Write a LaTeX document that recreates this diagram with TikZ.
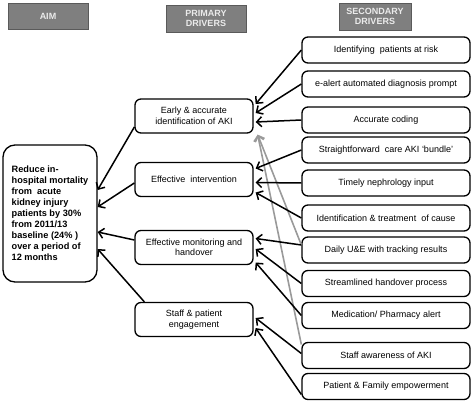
\documentclass[tikz,border=0pt]{standalone}
\usepackage{fontspec}
\setmainfont{Liberation Sans}
\usepackage{tikz}
\usetikzlibrary{arrows.meta,positioning,calc}
\definecolor{hdrgray}{HTML}{7F7F7F}
\definecolor{hdredge}{HTML}{5A5A5A}
\definecolor{linkgray}{HTML}{9A9A9A}

\begin{document}
\begin{tikzpicture}[x=1pt,y=-1pt,
  hdr/.style={draw=hdredge, fill=hdrgray, text=white!92!black, font=\fontsize{9}{10}\selectfont\bfseries,
    align=center, minimum height=26pt, inner sep=1pt},
  box/.style={draw=black, line width=1.3pt, rounded corners=6pt, fill=white,
    font=\fontsize{9}{10.5}\selectfont, align=center, inner sep=2pt},
  link/.style={line width=1.5pt, -{Straight Barb[length=5pt,width=10pt]}},
  glink/.style={link, draw=linkgray, line width=1.6pt}]
\useasboundingbox (0,0) rectangle (474,404);
% column headers
\node[hdr, minimum width=80pt] (haim) at (48,16.5) {AIM};
\node[hdr, minimum width=80pt, minimum height=27pt] (hprim) at (206,18.5) {PRIMARY\\DRIVERS};
\node[hdr, minimum width=72pt, minimum height=27pt] (hsec) at (375,16.5) {SECONDARY\\DRIVERS};
% aim
\node[box, rounded corners=12pt, minimum width=94pt, minimum height=137pt,
  font=\fontsize{9.2}{11}\selectfont\bfseries, align=left] (aim) at (50,213.5)
  {Reduce in-\\hospital mortality\\from\ \ acute\\kidney injury\\patients by 30\%\\from 2011/13\\baseline (24\% )\\over a period of\\12 months};
% primary drivers
\foreach \i/\yy/\lab in {%
   1/116/{Early \& accurate\\identification of AKI},
   2/179.5/{Effective\ \ intervention},
   3/247.5/{Effective monitoring and\\handover},
   4/319.5/{Staff \& patient\\engagement}}{
   \node[box, minimum width=118pt, minimum height=34pt] (prim\i) at (194,\yy) {\lab};
}
% secondary drivers
\foreach \i/\yy/\lab in {%
   1/50/{Identifying\ \ patients at risk},
   2/84/{e-alert automated diagnosis prompt},
   3/120/{Accurate coding},
   4/150/{Straightforward\ \ care AKI `bundle'},
   5/183/{Timely nephrology input},
   6/218/{Identification \& treatment\ \ of cause},
   7/250/{Daily U\&E with tracking results},
   8/283.5/{Streamlined handover process},
   9/315.5/{Medication/ Pharmacy alert},
   10/355.5/{Staff awareness of AKI},
   11/386.5/{Patient \& Family empowerment}}{
   \node[box, minimum width=168pt, minimum height=26pt] (sec\i) at (386,\yy) {\lab};
}
% secondary -> primary
\draw[glink] ([yshift=5pt]sec7.west) -- ([xshift=4pt,yshift=-1pt]prim1.south east);
\draw[glink] ([yshift=11pt]sec10.west) -- ([xshift=4pt,yshift=-1pt]prim1.south east);
\draw[link] (sec1.west) -- ([xshift=2pt,yshift=12pt]prim1.east);
\draw[link] (sec2.west) -- ([xshift=2pt,yshift=3pt]prim1.east);
\draw[link] (sec3.west) -- ([xshift=2pt,yshift=-6pt]prim1.east);
\draw[link] (sec4.west) -- ([xshift=2pt,yshift=11pt]prim2.east);
\draw[link] (sec5.west) -- ([xshift=2pt,yshift=-3pt]prim2.east);
\draw[link] (sec6.west) -- ([xshift=2pt,yshift=-13pt]prim2.east);
\draw[link] ([yshift=5pt]sec7.west) -- ([xshift=2pt,yshift=9pt]prim3.east);
\draw[link] (sec8.west) -- ([xshift=2pt,yshift=-1.5pt]prim3.east);
\draw[link] (sec9.west) -- ([xshift=2pt,yshift=-15pt]prim3.east);
\draw[link] ([yshift=2pt]sec10.west) -- ([xshift=2pt,yshift=1.5pt]prim4.east);
\draw[link] ([yshift=-8pt]sec11.west) -- ([xshift=2pt,yshift=-8.5pt]prim4.east);
% primary -> aim
\draw[link] ([yshift=-11pt]prim1.west) -- ([yshift=23.5pt]aim.east);
\draw[link] ([yshift=-3.5pt]prim2.west) -- ([yshift=6.5pt]aim.east);
\draw[link] ([yshift=7.5pt]prim3.west) -- ([yshift=-18.5pt]aim.east);
\draw[link] ([xshift=10pt]prim4.north west) -- ([yshift=-35.5pt]aim.east);
\end{tikzpicture}
\end{document}
